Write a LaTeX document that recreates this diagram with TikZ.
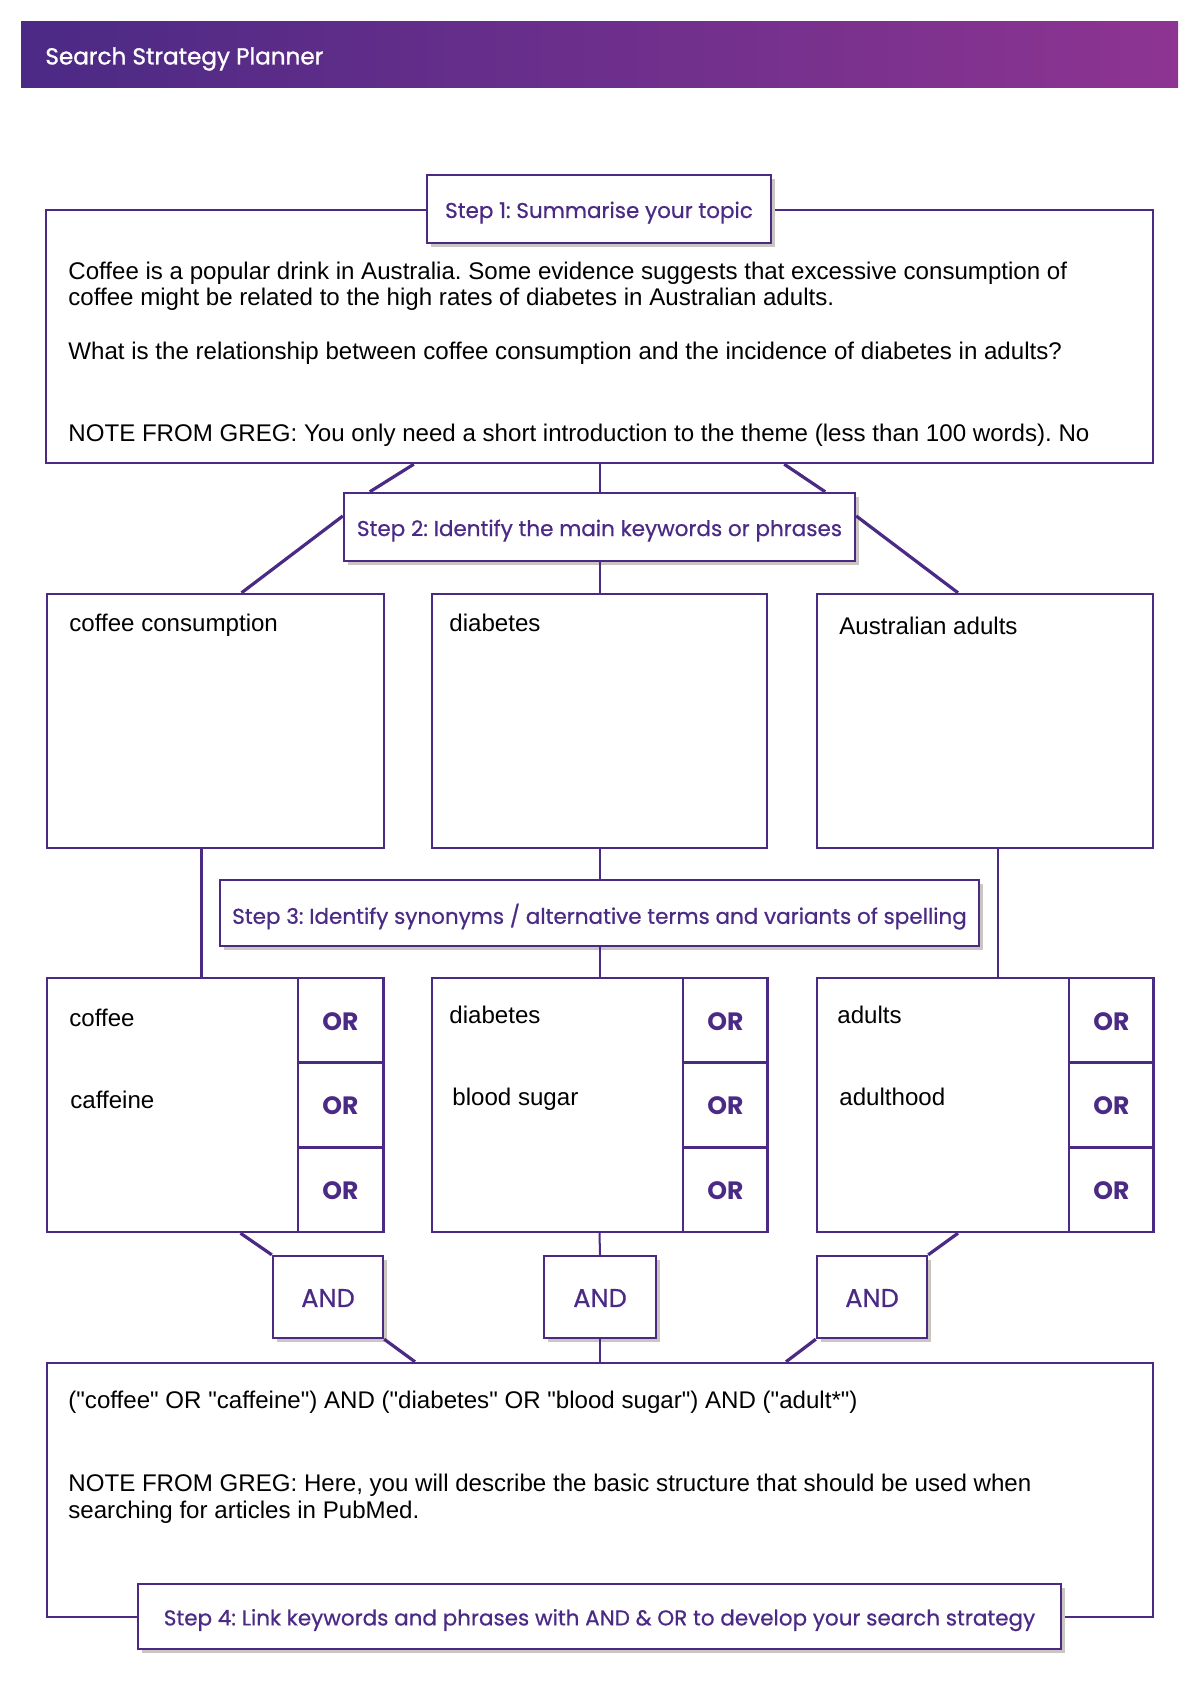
\documentclass[tikz,border=0pt]{standalone}
\usepackage{fontspec}
\setmainfont{Liberation Sans}[Ligatures=TeXOff]
\newfontfamily\labelfont{Poppins}[FakeBold=0.6]
\newfontfamily\bannerfont{Poppins}[FakeBold=1.2]
\newfontfamily\orfont{Poppins}
\usetikzlibrary{fit,shadows,calc}
\frenchspacing

\definecolor{plum}{HTML}{4B2A85}
\definecolor{plumlight}{HTML}{8E3492}
\definecolor{shadowgrey}{HTML}{CCC6C3}

\tikzset{
  frame/.style={draw=plum, line width=1.2pt, inner sep=0pt},
  steplabel/.style={frame, fill=white,
    drop shadow={shadow xshift=2pt, shadow yshift=-2pt, fill=shadowgrey, opacity=1}},
  steptext/.style={text=plum, yshift=-1.8pt, font=\labelfont\fontsize{10.7}{12}\selectfont},
  andtext/.style={text=plum, yshift=-0.5pt, font=\labelfont\fontsize{12.8}{14}\selectfont},
  bodytext/.style={anchor=base west, inner sep=0pt, align=left,
    font=\fontsize{12}{13.4}\selectfont},
  ortext/.style={text=plum, yshift=-0.5pt, font=\orfont\bfseries\fontsize{12.5}{14}\selectfont},
  link/.style={draw=plum, line width=1pt},
  slant/.style={draw=plum, line width=1.6pt},
}

\begin{document}
\begin{tikzpicture}[x=0.0175cm, y=-0.0175cm]
  \useasboundingbox (0,0) rectangle (1200,1696);

  % banner
  \node[fit={(21,22) (1178,88)}, inner sep=0pt, left color=plum,
    middle color=plum!85!plumlight, right color=plumlight] (banner) {};
  \node[anchor=west, inner sep=0pt, text=white,
    font=\bannerfont\fontsize{11.5}{12}\selectfont] (bannertext) at (45,59) {Search Strategy Planner};

  % step 1
  \node[frame, fit={(46,210) (1153,463)}] (summary) {};
  \node[steplabel, fit={(427,175) (771,243)},
    label={[steptext]center:Step 1: Summarise your topic}] (step1) {};
  \node[bodytext] (summarytext) at (68,306) {Coffee is a popular drink in Australia. Some evidence suggests that excessive consumption of\\coffee might be related to the high rates of diabetes in Australian adults.};
  \node[bodytext] (question) at (68,360) {What is the relationship between coffee consumption and the incidence of diabetes in adults?};
  \node[bodytext] (note1) at (68,441) {NOTE FROM GREG: You only need a short introduction to the theme (less than 100 words). No};

  % step 2
  \node[steplabel, fit={(344,493) (855,561)},
    label={[steptext]center:Step 2: Identify the main keywords or phrases}] (step2) {};
  \draw[slant] ($(summary.south west)+(369,0)$) -- ($(step2.north west)+(27,0)$);
  \draw[link] (summary.south) -- (step2.north);
  \draw[slant] ($(summary.south east)+(-370,0)$) -- ($(step2.north east)+(-31,0)$);

  \node[frame, fit={(47,594) (384,848)}] (kw1) {};
  \node[frame, fit={(432,594) (767,848)}] (kw2) {};
  \node[frame, fit={(817,594) (1153,848)}] (kw3) {};
  \node[bodytext] (kw1text) at (69,631) {coffee consumption};
  \node[bodytext] (kw2text) at (449,631) {diabetes};
  \node[bodytext] (kw3text) at (839,634) {Australian adults};
  \draw[slant] ($(step2.west)+(0,-11)$) -- ($(kw1.north)+(26,0)$);
  \draw[link] (step2.south) -- (kw2.north);
  \draw[slant] ($(step2.east)+(0,-11)$) -- ($(kw3.north)+(-27,0)$);

  % step 3
  \node[steplabel, fit={(220,880) (979,946)},
    label={[steptext]center:Step 3: Identify synonyms / alternative terms and variants of spelling}] (step3) {};
  \node[frame, fit={(47,978) (384,1232)}] (syn1) {};
  \node[frame, fit={(432,978) (767,1232)}] (syn2) {};
  \node[frame, fit={(817,978) (1153,1232)}] (syn3) {};
  \draw[link] ($(kw1.south)+(-14,0)$) -- ($(syn1.north)+(-14,0)$);
  \draw[link] (kw2.south) -- (step3.north);
  \draw[link] (step3.south) -- (syn2.north);
  \draw[link] ($(kw3.south)+(13,0)$) -- ($(syn3.north)+(13,0)$);
  \foreach \c/\x in {1/298, 2/683, 3/1069}
    \foreach \r/\y in {1/978, 2/1062.67, 3/1147.33}
      \node[frame, fit={(\x,\y) (\x+85,\y+84.67)},
        label={[ortext]center:OR}] (or\c\r) {};
  \node[bodytext] (syn1a) at (69,1026) {coffee};
  \node[bodytext] (syn1b) at (70,1108) {caffeine};
  \node[bodytext] (syn2a) at (449,1023) {diabetes};
  \node[bodytext] (syn2b) at (452,1105) {blood sugar};
  \node[bodytext] (syn3a) at (837,1023) {adults};
  \node[bodytext] (syn3b) at (839,1105) {adulthood};

  % step 4
  \node[steplabel, fit={(273,1256) (383,1338)}, label={[andtext]center:AND}] (and1) {};
  \node[steplabel, fit={(544,1256) (656,1338)}, label={[andtext]center:AND}] (and2) {};
  \node[steplabel, fit={(817,1256) (927,1338)}, label={[andtext]center:AND}] (and3) {};
  \node[frame, fit={(47,1363) (1153,1617)}] (query) {};
  \draw[slant] ($(syn1.south)+(25,0)$) -- (and1.north west);
  \draw[link] (syn2.south) -- (and2.north);
  \draw[slant] ($(syn3.south)+(-27,0)$) -- (and3.north east);
  \draw[slant] (and1.south east) -- ($(query.north)+(-185,0)$);
  \draw[link] (and2.south) -- (query.north);
  \draw[slant] (and3.south west) -- ($(query.north)+(186,0)$);
  \node[bodytext] (querytext) at (68,1408) {("coffee" OR "caffeine") AND ("diabetes" OR "blood sugar") AND ("adult*")};
  \node[bodytext] (note2) at (68,1518) {NOTE FROM GREG: Here, you will describe the basic structure that should be used when\\searching for articles in PubMed.};
  \node[steplabel, fit={(138,1584) (1061,1649)},
    label={[steptext]center:Step 4: Link keywords and phrases with AND \& OR to develop your search strategy}] (step4) {};
\end{tikzpicture}
\end{document}
